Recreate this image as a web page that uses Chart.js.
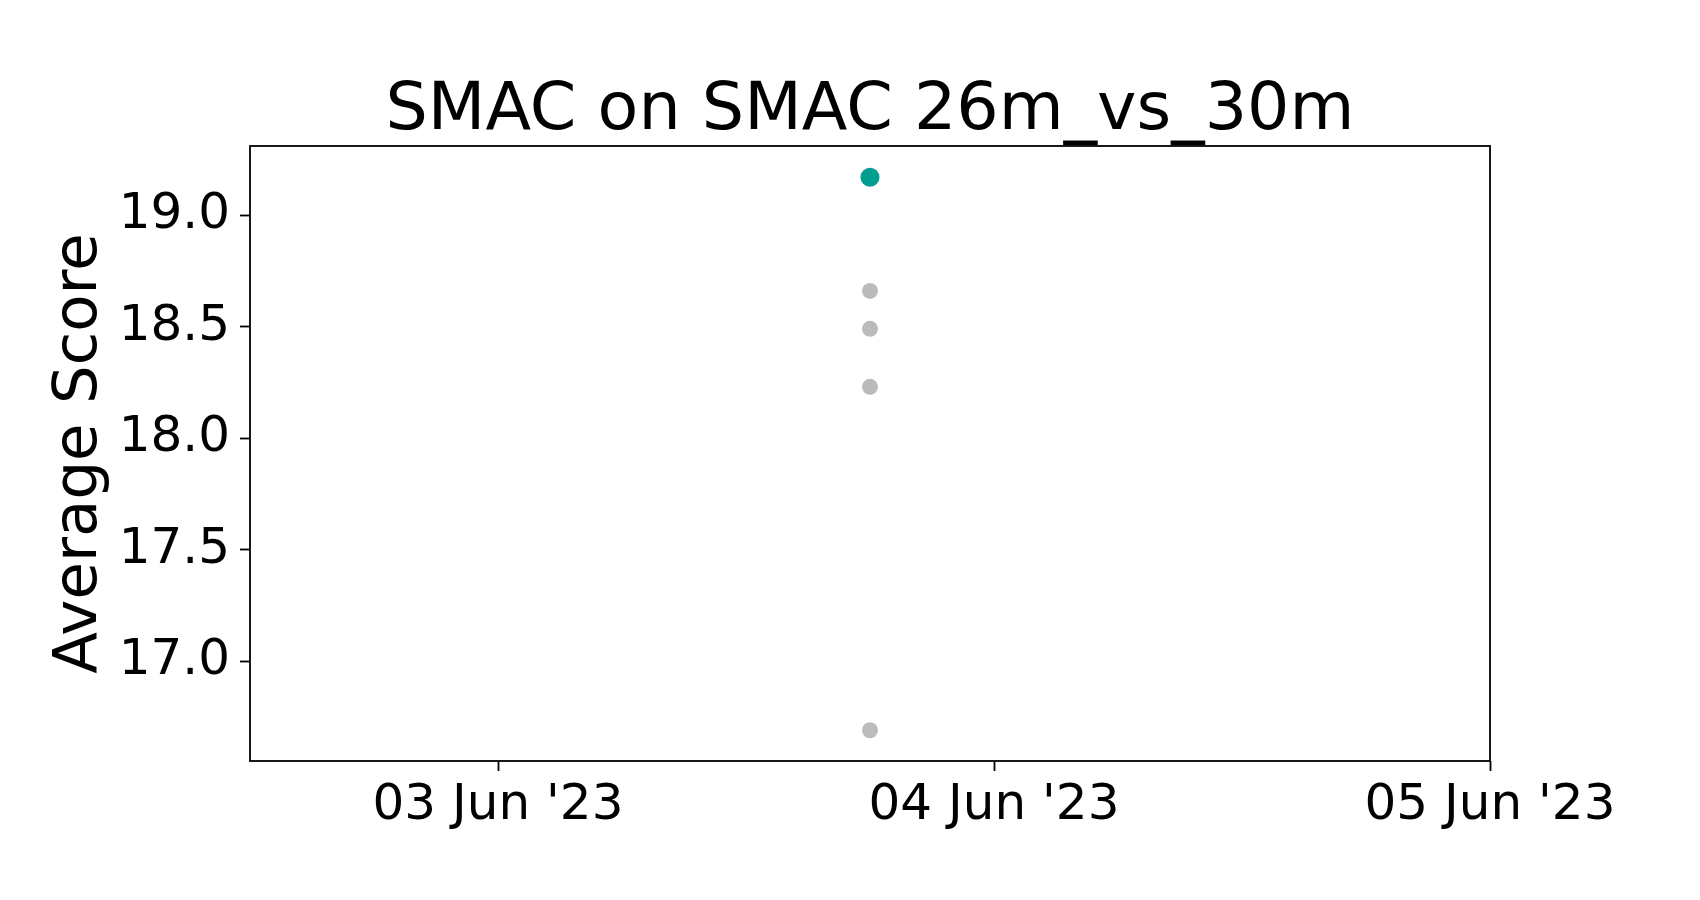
<!DOCTYPE html>
<html>
<head>
<meta charset="utf-8">
<script src="https://cdn.jsdelivr.net/npm/chart.js@4/dist/chart.umd.min.js"></script>
<style>
  html, body { margin: 0; padding: 0; background: #ffffff; }
  #wrap { width: 1700px; height: 900px; }
</style>
</head>
<body>
<div id="wrap"><canvas id="scoreChart" width="1700" height="900"></canvas></div>
<script>
// run date for every point
var runDate = '2023-06-03T18:00:00Z';
// best run (highlighted) and the other runs
var bestScores = [19.17];
var otherScores = [18.66, 18.49, 18.23, 16.69];
// axis ticks
var yTicks = [17.0, 17.5, 18.0, 18.5, 19.0];
var xTickDates = ['2023-06-03T00:00:00Z', '2023-06-04T00:00:00Z', '2023-06-05T00:00:00Z'];
var xTickLabels = ["03 Jun '23", "04 Jun '23", "05 Jun '23"];
var xRange = ['2023-06-02T12:00:00Z', '2023-06-05T00:00:00Z'];
var yRange = [16.552, 19.31];
var chartTitle = 'SMAC on SMAC 26m_vs_30m';

var FONT = "'DejaVu Sans', 'Liberation Sans', sans-serif";

function toPoints(values) {
    var t = Date.parse(runDate);
    return values.map(function(v) { return { x: t, y: v }; });
}

// full black frame round the plot, and the title centred over it
const frameBox = {
    id: 'frameBox',
    afterDraw: function(chart) {
        var a = chart.chartArea;
        var ctx = chart.ctx;
        ctx.save();
        ctx.strokeStyle = '#000000';
        ctx.lineWidth = 1.8;
        ctx.strokeRect(a.left, a.top, a.right - a.left, a.bottom - a.top);

        ctx.fillStyle = '#000000';
        ctx.font = '66.7px ' + FONT;
        ctx.textAlign = 'center';
        ctx.textBaseline = 'alphabetic';
        ctx.fillText(chartTitle, (a.left + a.right) / 2, 129);
        ctx.restore();
    }
};

var ctx = document.getElementById('scoreChart').getContext('2d');
var chart = new Chart(ctx, {
    type: 'scatter',
    data: {
        datasets: [{
            label: 'others',
            data: toPoints(otherScores),
            backgroundColor: '#BBBBBB',
            borderWidth: 0,
            pointRadius: 8,
            order: 2
        }, {
            label: 'best',
            data: toPoints(bestScores),
            backgroundColor: '#009E90',
            borderWidth: 0,
            pointRadius: 9.5,
            order: 1
        }]
    },
    options: {
        responsive: false,
        animation: false,
        devicePixelRatio: 1,
        layout: {
            padding: { top: 146, left: 0, right: 210, bottom: 0 }
        },
        plugins: {
            legend: { display: false },
            tooltip: { enabled: false },
            title: { display: false }
        },
        scales: {
            x: {
                type: 'linear',
                min: Date.parse(xRange[0]),
                max: Date.parse(xRange[1]),
                afterBuildTicks: function(scale) {
                    scale.ticks = xTickDates.map(function(d) { return { value: Date.parse(d) }; });
                },
                afterFit: function(scale) { scale.height = 139; },
                border: { display: false },
                grid: {
                    drawOnChartArea: false,
                    drawTicks: true,
                    tickLength: 10,
                    tickWidth: 1.8,
                    tickColor: '#000000'
                },
                ticks: {
                    color: '#000000',
                    padding: 5,
                    maxRotation: 0,
                    autoSkip: false,
                    font: { family: FONT, size: 50 },
                    callback: function(value) {
                        var i = xTickDates.map(Date.parse).indexOf(value);
                        return i >= 0 ? xTickLabels[i] : '';
                    }
                }
            },
            y: {
                min: yRange[0],
                max: yRange[1],
                afterBuildTicks: function(scale) {
                    scale.ticks = yTicks.map(function(v) { return { value: v }; });
                },
                afterFit: function(scale) { scale.width = 250; },
                border: { display: false },
                grid: {
                    drawOnChartArea: false,
                    drawTicks: true,
                    tickLength: 10,
                    tickWidth: 1.8,
                    tickColor: '#000000'
                },
                ticks: {
                    color: '#000000',
                    padding: 10,
                    font: { family: FONT, size: 50 },
                    callback: function(value) { return Number(value).toFixed(1); }
                },
                title: {
                    display: true,
                    text: 'Average Score',
                    color: '#000000',
                    font: { family: FONT, size: 61, lineHeight: 1.2 },
                    padding: { top: 44, bottom: 0 }
                }
            }
        }
    },
    plugins: [frameBox]
});
</script>
</body>
</html>
